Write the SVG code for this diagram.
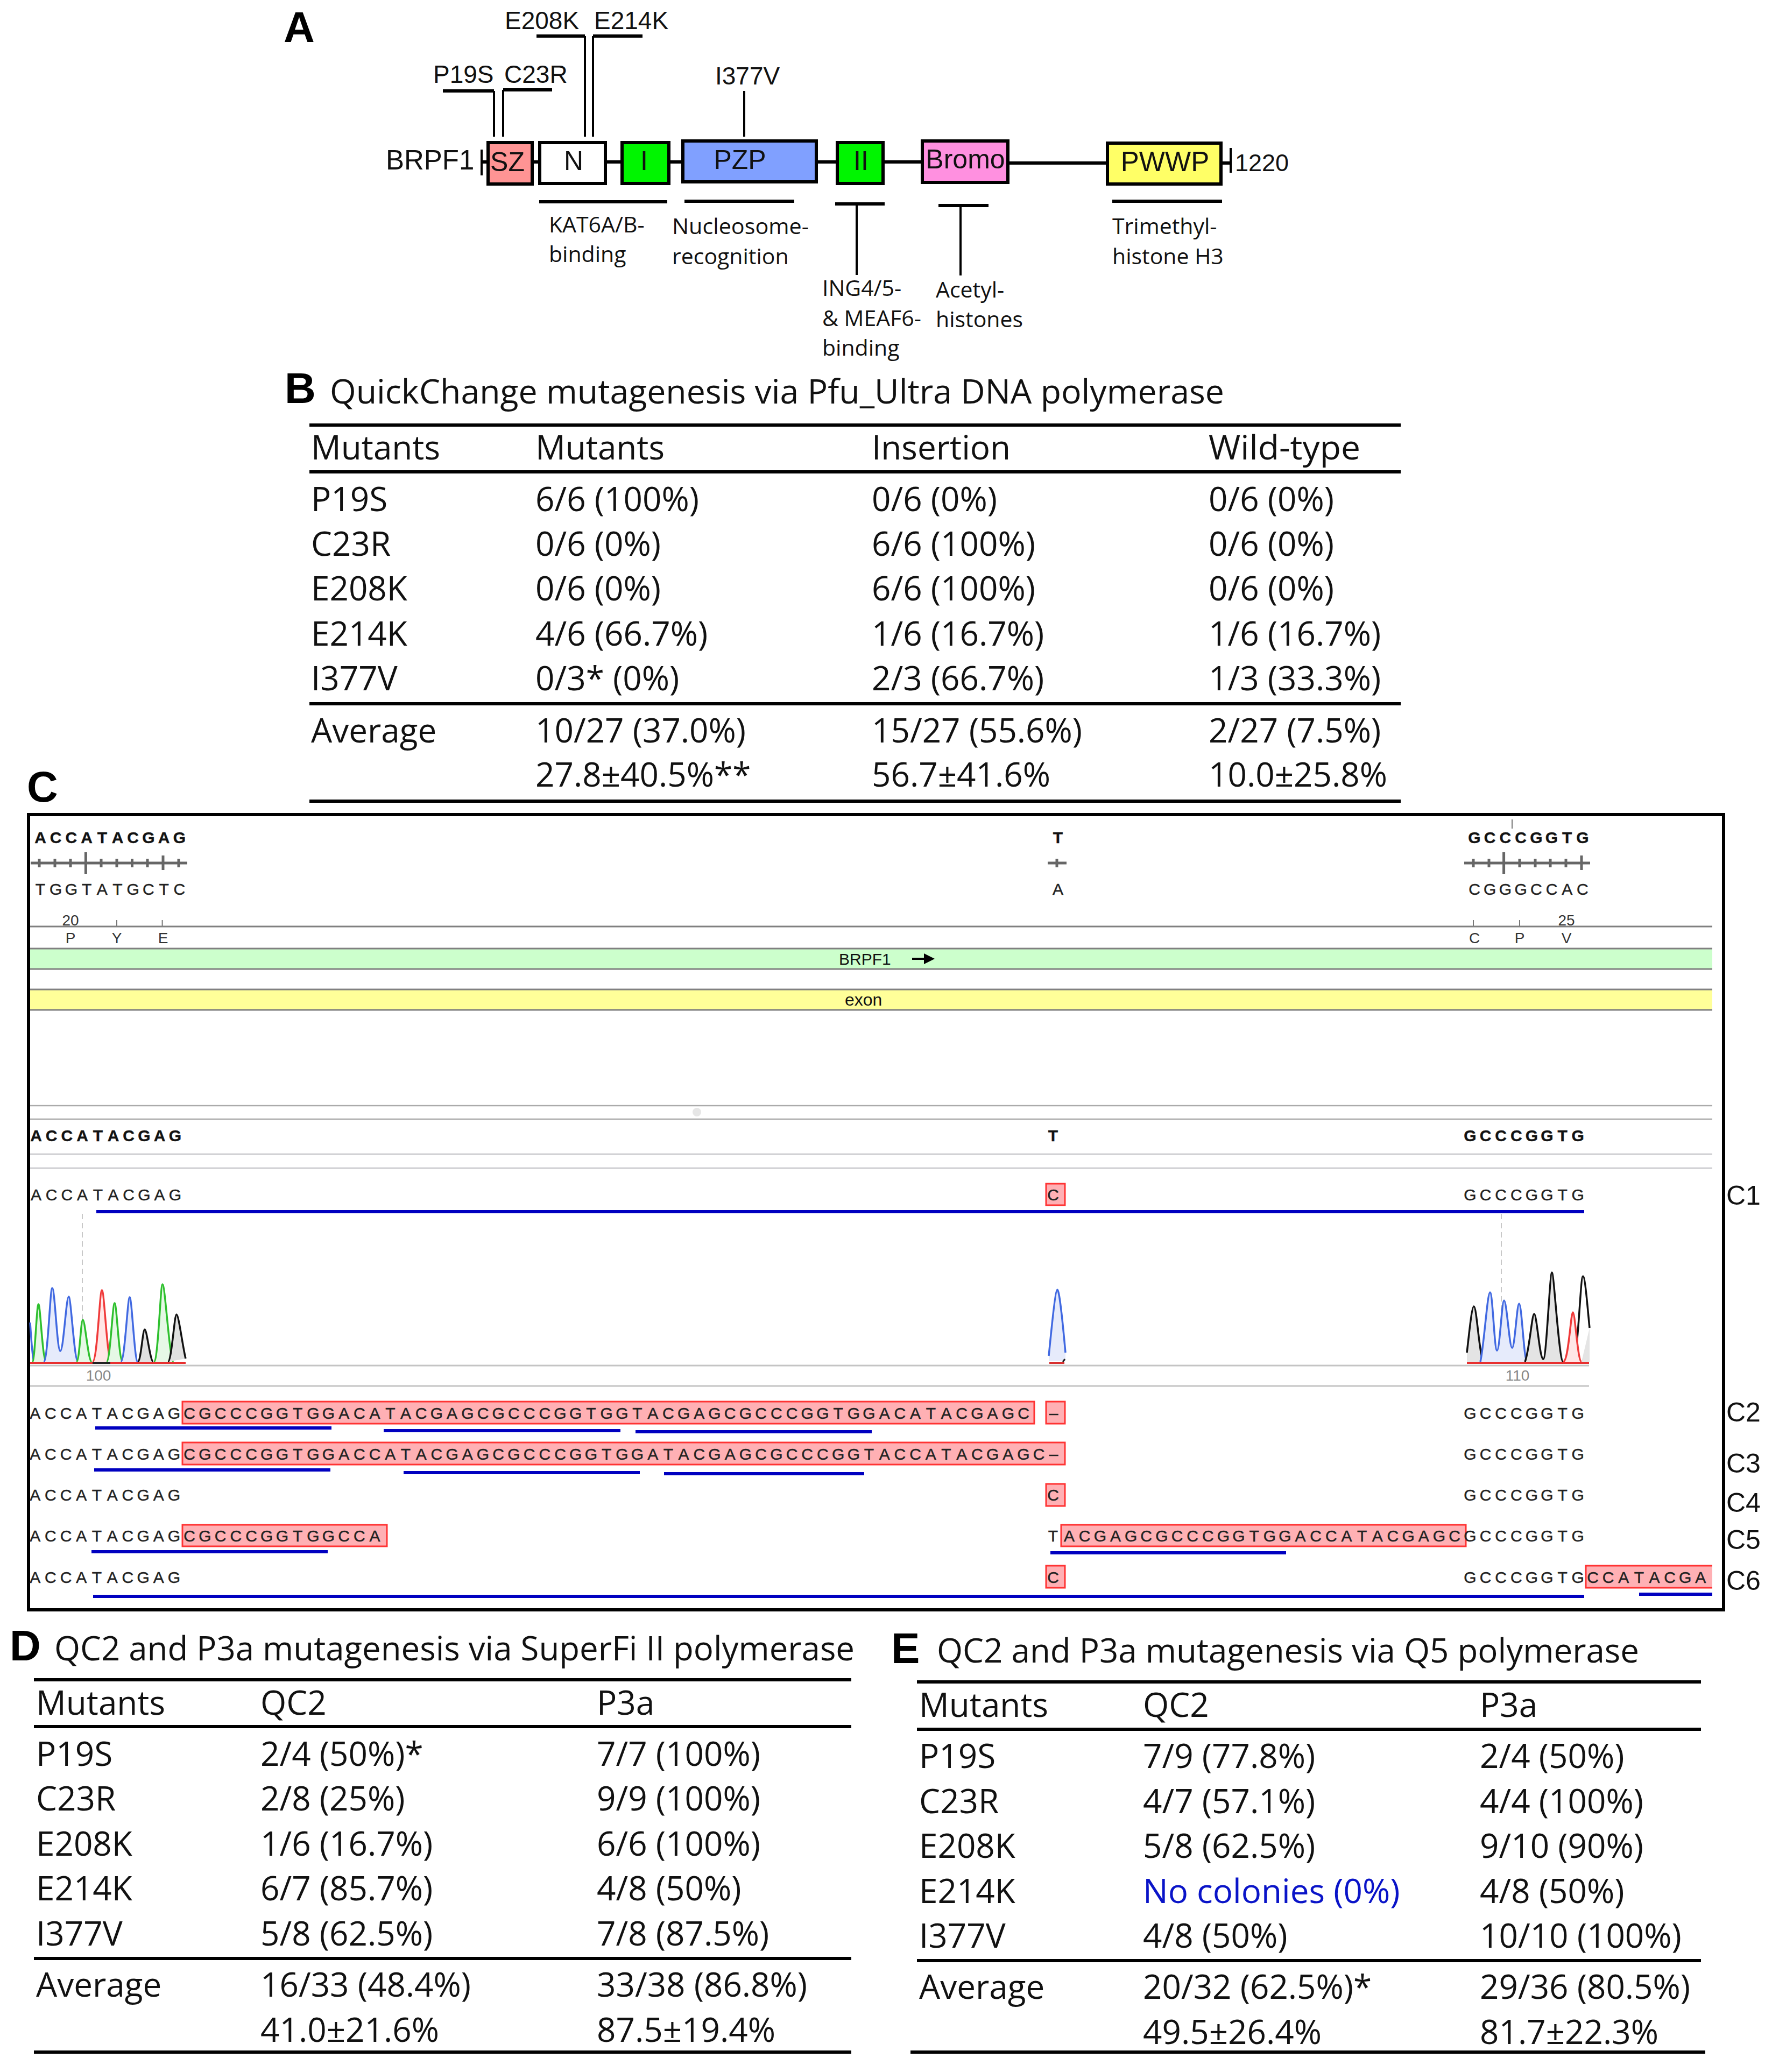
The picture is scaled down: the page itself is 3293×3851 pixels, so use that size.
<svg xmlns="http://www.w3.org/2000/svg" width="3293" height="3851" viewBox="0 0 3293 3851">
<style>
text{font-family:"Liberation Sans",Arial,sans-serif;fill:#000}
.letter{font-size:80px;font-weight:700}
.dom{stroke:#000;stroke-width:6}
.lbl{font-size:50px;text-anchor:middle;fill:#111}
.mut{font-size:46px;fill:#111}
.ann{font-family:"Open Sans",sans-serif;font-size:41px;fill:#111}
.ln{stroke:#000;stroke-width:6;fill:none}
.th{stroke:#000;stroke-width:4;fill:none}
.t text,.title{font-family:"Open Sans",sans-serif;font-size:62px;fill:#111}
.rule{stroke:#000;stroke-width:6}
.seq{font-size:30px;text-anchor:middle;fill:#222;stroke:#222;stroke-width:.5}
.bold{font-weight:700;fill:#111}
.small{font-size:28px;text-anchor:middle;fill:#333}
.ruler{stroke:#666;stroke-width:5}
.track{stroke:#808080;stroke-width:3}
.pale{stroke:#c8c8cc;stroke-width:2.5}
.box{fill:#ffb0b4;stroke:#ff3333;stroke-width:3}
.u{stroke:#0000c0;stroke-width:6}
.clab{font-size:50px;fill:#111}
.dash{stroke:#c8c8c8;stroke-width:2;stroke-dasharray:10 7}
.pk{stroke-width:3.5;stroke-linejoin:round}
.g{stroke:#2ec02e;fill:#e6f8e6}.b{stroke:#4169e1;fill:#e6ebfb}.r{stroke:#f03a3a;fill:#ffe6e6}.k{stroke:#111;fill:#e0e0e0}
</style>
<defs><marker id="ah" markerWidth="5" markerHeight="5" refX="4" refY="2.5" orient="auto"><path d="M0 0L5 2.5L0 5Z" fill="#000"/></marker></defs>
<rect width="3293" height="3851" fill="#fff"/>

<text class="letter" x="527" y="78">A</text>
<text class="letter" x="529" y="749">B</text>
<text class="letter" x="50" y="1490">C</text>
<text class="letter" x="18" y="3086">D</text>
<text class="letter" x="1656" y="3091">E</text>

<g id="connectors">
<path class="ln" d="M895 301H905M992 301H1000M1128 301H1153M1246 301H1266M1520 301H1553M1644 301H1711M1876 303H2056M2272 303H2287"/>
<path class="th" d="M895 278V326M2287 275V321"/>
<path class="ln" d="M823 169H918M935 167H1026M997 67H1087M1102 67H1194M1002 375H1240M1272 374H1476M1552 379H1644M1744 382H1837M2067 374H2271"/>
<path class="th" d="M918 169V254M935 167V254M1087 67V254M1102 67V254M1383 169V254M1592 379V511M1785 382V512"/>
</g>
<g id="dom-sz"><rect class="dom" x="907" y="265" width="82" height="77" fill="#ff9494"/><text class="lbl" x="943" y="318">SZ</text></g>
<g id="dom-n"><rect class="dom" x="1003" y="265" width="122" height="76" fill="#fff"/><text class="lbl" x="1066" y="316">N</text></g>
<g id="dom-i"><rect class="dom" x="1156" y="265" width="87" height="76" fill="#00f500"/><text class="lbl" x="1197" y="316">I</text></g>
<g id="dom-pzp"><rect class="dom" x="1269" y="262" width="248" height="76" fill="#80a0ff"/><text class="lbl" x="1375" y="314">PZP</text></g>
<g id="dom-ii"><rect class="dom" x="1556" y="265" width="85" height="76" fill="#00f500"/><text class="lbl" x="1600" y="316">II</text></g>
<g id="dom-bromo"><rect class="dom" x="1714" y="262" width="159" height="77" fill="#ff90e0"/><text class="lbl" x="1794" y="313">Bromo</text></g>
<g id="dom-pwwp"><rect class="dom" x="2058" y="266" width="211" height="76" fill="#ffff66"/><text class="lbl" x="2165" y="318" style="font-size:51px">PWWP</text></g>
<text class="mut" x="717" y="315" style="font-size:51px">BRPF1</text>
<text class="mut" x="2295" y="318" style="font-size:45px">1220</text>
<text class="mut" x="805" y="154">P19S</text>
<text class="mut" x="937" y="154">C23R</text>
<text class="mut" x="938" y="54">E208K</text>
<text class="mut" x="1104" y="54">E214K</text>
<text class="mut" x="1329" y="157">I377V</text>
<text class="ann" x="1020" y="432">KAT6A/B-</text><text class="ann" x="1020" y="487">binding</text>
<text class="ann" x="1249" y="435" textLength="254" lengthAdjust="spacingAndGlyphs">Nucleosome-</text><text class="ann" x="1249" y="491">recognition</text>
<text class="ann" x="1528" y="550">ING4/5-</text><text class="ann" x="1528" y="606">&amp; MEAF6-</text><text class="ann" x="1528" y="661">binding</text>
<text class="ann" x="1739" y="553">Acetyl-</text><text class="ann" x="1739" y="608">histones</text>
<text class="ann" x="2067" y="435">Trimethyl-</text><text class="ann" x="2067" y="491">histone H3</text>

<g id="table-b" class="t">
<text class="title" x="613" y="750" textLength="1662" lengthAdjust="spacingAndGlyphs">QuickChange mutagenesis via Pfu_Ultra DNA polymerase</text>
<path class="rule" d="M575 790H2603M575 877H2603M575 1308H2603M575 1489H2603"/>
<text x="578" y="854">Mutants</text><text x="995" y="854">Mutants</text><text x="1620" y="854">Insertion</text><text x="2246" y="854" textLength="282" lengthAdjust="spacingAndGlyphs">Wild-type</text>
<text x="578" y="950">P19S</text><text x="995" y="950">6/6 (100%)</text><text x="1620" y="950">0/6 (0%)</text><text x="2246" y="950">0/6 (0%)</text>
<text x="578" y="1033">C23R</text><text x="995" y="1033">0/6 (0%)</text><text x="1620" y="1033">6/6 (100%)</text><text x="2246" y="1033">0/6 (0%)</text>
<text x="578" y="1116">E208K</text><text x="995" y="1116">0/6 (0%)</text><text x="1620" y="1116">6/6 (100%)</text><text x="2246" y="1116">0/6 (0%)</text>
<text x="578" y="1200">E214K</text><text x="995" y="1200">4/6 (66.7%)</text><text x="1620" y="1200">1/6 (16.7%)</text><text x="2246" y="1200">1/6 (16.7%)</text>
<text x="578" y="1283">I377V</text><text x="995" y="1283">0/3* (0%)</text><text x="1620" y="1283">2/3 (66.7%)</text><text x="2246" y="1283">1/3 (33.3%)</text>
<text x="578" y="1380">Average</text><text x="995" y="1380">10/27 (37.0%)</text><text x="1620" y="1380">15/27 (55.6%)</text><text x="2246" y="1380">2/27 (7.5%)</text>
<text x="995" y="1462">27.8±40.5%**</text><text x="1620" y="1462">56.7±41.6%</text><text x="2246" y="1462">10.0±25.8%</text>
</g>

<g id="panel-c">
<rect x="53" y="1514" width="3150" height="1478" fill="#fff" stroke="#000" stroke-width="6"/>
<text class="seq bold" y="1567" x="75 103.7 132.4 161.1 189.8 218.5 247.2 275.9 304.6 333.3">ACCATACGAG</text>
<text class="seq" y="1663" x="75 103.7 132.4 161.1 189.8 218.5 247.2 275.9 304.6 333.3">TGGTATGCTC</text>
<text class="seq bold" y="1567" x="1966">T</text><text class="seq" y="1663" x="1966">A</text>
<text class="seq bold" y="1567" x="2740 2768.7 2797.4 2826.1 2854.8 2883.5 2912.2 2940.9">GCCCGGTG</text>
<text class="seq" y="1663" x="2740 2768.7 2797.4 2826.1 2854.8 2883.5 2912.2 2940.9">CGGGCCAC</text>
<path class="ruler" d="M57 1604H348M73 1596V1612M102 1596V1612M131 1596V1612M159.400 1584V1624M188 1596V1612M217 1596V1612M245.500 1596V1612M274 1596V1612M303 1590V1617M332 1596V1612"/>
<path class="ruler" d="M1947 1604H1982M1964 1596V1612"/>
<path class="ruler" d="M2721 1604H2955M2738 1596V1612M2767 1596V1612M2794.600 1584V1624M2824 1596V1612M2853 1596V1612M2881 1596V1612M2910 1596V1612M2939 1590V1617"/>
<path d="M2810 1523V1540M217 1710V1722M301.600 1710V1722M2738 1710V1722M2824 1710V1722" stroke="#777" stroke-width="2"/>
<text class="small" x="131" y="1720">20</text><text class="small" x="2911" y="1720">25</text>
<text class="small" x="131" y="1753">P</text><text class="small" x="217" y="1753">Y</text><text class="small" x="303" y="1753">E</text>
<text class="small" x="2740" y="1753">C</text><text class="small" x="2824" y="1753">P</text><text class="small" x="2911" y="1753">V</text>
<path class="track" d="M56 1722H3182"/>
<rect x="56" y="1763" width="3126" height="38" fill="#ccffcc"/>
<rect x="56" y="1839" width="3126" height="38" fill="#ffff99"/>
<path class="track" d="M56 1763H3182M56 1801H3182M56 1839H3182M56 1877H3182"/>
<text x="1559" y="1793" style="font-size:30px;fill:#111">BRPF1</text>
<path d="M1695 1782H1733" stroke="#000" stroke-width="4" marker-end="url(#ah)"/>
<text x="1570" y="1869" style="font-size:32px;fill:#111">exon</text>
<path d="M56 2055H3182M56 2080H3182" stroke="#aaa" stroke-width="2.5"/>
<ellipse cx="1295" cy="2067" rx="8" ry="8" fill="#e6e6e6"/>
<path class="pale" d="M56 2145H3182M56 2171H3182"/>

<text class="seq bold" y="2121" x="67 95.700 124.400 153.100 181.800 210.500 239.200 267.900 296.600 325.300">ACCATACGAG</text>
<text class="seq bold" y="2121" x="1957">T</text>
<text class="seq bold" y="2121" x="2732 2760.6 2789.2 2817.8 2846.4 2875 2903.6 2932.2">GCCCGGTG</text>
<text class="seq" y="2231" x="67 95.700 124.400 153.100 181.800 210.500 239.200 267.900 296.600 325.300">ACCATACGAG</text>
<rect class="box" x="1944" y="2200" width="35" height="40"/><text class="seq" y="2231" x="1957">C</text>
<text class="seq" y="2231" x="2732 2760.6 2789.2 2817.8 2846.4 2875 2903.6 2932.2">GCCCGGTG</text>
<path class="u" d="M179 2252H2944"/>

<path class="dash" d="M153 2256V2531M2790 2256V2530"/>
<g id="trace" class="pk">
<path class="b" d="M56 2458C58 2490 60 2520 63 2531"/>
<path class="g" d="M60 2531C65 2531 68 2424 71.500 2424C75 2424 79 2531 86 2531"/>
<path class="b" d="M81 2531C89 2531 93 2394 97 2394C102 2394 106 2511 112 2511C118 2511 123 2410 127.700 2410C132 2410 138 2531 145 2531"/>
<path class="g" d="M142 2531C148 2531 150 2453 154 2453C158 2453 164 2531 170.500 2531"/>
<path class="r" d="M172 2531C181 2531 185 2398 189.400 2398C194 2398 199 2531 207 2531"/>
<path class="g" d="M198 2531C205 2531 209 2422 213 2422C217 2422 221 2531 228 2531"/>
<path class="b" d="M224.500 2531C232 2531 237 2411 241 2411C245 2411 250 2531 256 2531"/>
<path class="k" d="M256 2531C262 2531 265 2471 269 2471C273 2471 279 2531 285 2531"/>
<path class="g" d="M286 2531C294 2531 298 2387 302 2387C307 2387 315 2531 322.700 2531"/>
<path class="k" d="M312 2531C319 2531 324 2443 328 2443C332 2443 339 2500 345 2525"/>
<path d="M56 2533H345" stroke="#e83030" stroke-width="4"/>
<path d="M172 2533H205" stroke="#222" stroke-width="4"/>
<path d="M1949 2520C1953 2480 1961 2397 1965 2397C1969 2397 1976 2470 1980 2514V2530H1949Z" fill="#e6ebfb" stroke="none"/>
<path d="M1949 2520C1953 2480 1961 2397 1965 2397C1969 2397 1976 2470 1980 2514" fill="none" stroke="#4169e1"/>
<path d="M1950 2533H1978" stroke="#d83030" stroke-width="4"/>
<path d="M1975 2531L1979 2526" stroke="#222" stroke-width="3"/>
<path d="M2726 2514V2531H2954V2468L2939 2531H2905L2884 2365L2868 2526L2851 2442L2834 2531H2756L2739 2428Z" fill="#e4e4e4" stroke="none"/>
<path class="k" style="fill:none" d="M2726 2514C2730 2480 2735 2428 2739 2428C2744 2428 2749 2515 2756 2531"/>
<path class="b" d="M2751 2531C2758 2500 2764 2402 2769 2402C2774 2402 2777 2510 2782 2510C2787 2510 2791 2417 2795 2417C2800 2417 2805 2505 2810 2505C2815 2505 2819 2423 2823 2423C2828 2423 2832 2531 2838 2531"/>
<path class="k" style="fill:#e4e4e4" d="M2834 2531C2842 2510 2847 2442 2851 2442C2856 2442 2861 2526 2868 2526C2874 2526 2880 2365 2884 2365C2888 2365 2897 2531 2905 2531"/>
<path class="k" style="fill:none" d="M2925 2531C2933 2510 2937 2372 2941.700 2372C2946 2372 2951 2440 2954 2468"/>
<path class="r" d="M2905 2531C2915 2531 2919 2439 2923 2439C2927 2439 2932 2531 2939 2531"/>
<path d="M2726 2533H2953" stroke="#e83030" stroke-width="4"/>
</g>
<path d="M56 2538H2953M56 2576H2953" stroke="#c4c4c4" stroke-width="3"/>
<text class="small" x="183" y="2566" style="fill:#888">100</text>
<text class="small" x="2820" y="2566" style="fill:#888">110</text>

<rect class="box" x="339" y="2605" width="1583" height="41"/><rect class="box" x="1944" y="2605" width="35" height="41"/>
<text class="seq" y="2637" x="65.200 93.900 122.600 151.300 180 208.700 237.400 266.100 294.800 323.500">ACCATACGAG</text>
<text class="seq" y="2637" x="352.200 380.900 409.600 438.300 467 495.700 524.400 553.100 581.800 610.500 639.200 667.900 696.600 725.300 754 782.700 811.400 840.100 868.800 897.500 926.200 954.900 983.600 1012.300 1041 1069.700 1098.400 1127.100 1155.800 1184.500 1213.200 1241.900 1270.600 1299.300 1328 1356.700 1385.400 1414.100 1442.800 1471.500 1500.200 1528.900 1557.600 1586.300 1615 1643.700 1672.400 1701.100 1729.800 1758.500 1787.200 1815.900 1844.600 1873.300 1902">CGCCCGGTGGACATACGAGCGCCCGGTGGTACGAGCGCCCGGTGGACATACGAGC</text>
<text class="seq" y="2637" x="1958">–</text>
<text class="seq" y="2637" x="2732 2760.6 2789.2 2817.8 2846.4 2875 2903.6 2932.2">GCCCGGTG</text>
<path class="u" d="M177 2654H616M713 2659H1153M1181 2661H1620"/>

<rect class="box" x="339" y="2681" width="1640" height="41"/>
<text class="seq" y="2713" x="65.200 93.900 122.600 151.300 180 208.700 237.400 266.100 294.800 323.500">ACCATACGAG</text>
<text class="seq" y="2713" x="352.200 380.900 409.600 438.300 467 495.700 524.400 553.100 581.800 610.500 639.200 667.900 696.600 725.300 754 782.700 811.400 840.100 868.800 897.500 926.200 954.900 983.600 1012.300 1041 1069.700 1098.400 1127.100 1155.800 1184.500 1213.200 1241.900 1270.600 1299.300 1328 1356.700 1385.400 1414.100 1442.800 1471.500 1500.200 1528.900 1557.600 1586.300 1615 1643.700 1672.400 1701.100 1729.800 1758.500 1787.200 1815.900 1844.600 1873.300 1902 1930.700 1958">CGCCCGGTGGACCATACGAGCGCCCGGTGGATACGAGCGCCCGGTACCATACGAGC–</text>
<text class="seq" y="2713" x="2732 2760.6 2789.2 2817.8 2846.4 2875 2903.6 2932.2">GCCCGGTG</text>
<path class="u" d="M175 2732H614M750 2737H1189M1234 2739H1606"/>

<text class="seq" y="2789" x="65.200 93.900 122.600 151.300 180 208.700 237.400 266.100 294.800 323.500">ACCATACGAG</text>
<rect class="box" x="1944" y="2758" width="35" height="41"/><text class="seq" y="2789" x="1957">C</text>
<text class="seq" y="2789" x="2732 2760.6 2789.2 2817.8 2846.4 2875 2903.6 2932.2">GCCCGGTG</text>

<rect class="box" x="339" y="2834" width="380" height="40"/><rect class="box" x="1972" y="2834" width="752" height="40"/>
<text class="seq" y="2865" x="65.200 93.900 122.600 151.300 180 208.700 237.400 266.100 294.800 323.500">ACCATACGAG</text>
<text class="seq" y="2865" x="352.200 380.900 409.600 438.300 467 495.700 524.400 553.100 581.800 610.500 639.200 667.900 696.600">CGCCCGGTGGCCA</text>
<text class="seq" y="2865" x="1957">T</text>
<text class="seq" y="2865" x="1987 2015.6 2044.3 2072.9 2101.6 2130.2 2158.8 2187.5 2216.1 2244.8 2273.4 2302 2330.7 2359.3 2388 2416.6 2445.2 2473.9 2502.5 2531.2 2559.8 2588.4 2617.1 2645.7 2674.4 2703">ACGAGCGCCCGGTGGACCATACGAGC</text>
<text class="seq" y="2865" x="2732 2760.6 2789.2 2817.8 2846.4 2875 2903.6 2932.2">GCCCGGTG</text>
<path class="u" d="M170 2884H609M1952 2886H2390"/>

<text class="seq" y="2942" x="65.200 93.900 122.600 151.300 180 208.700 237.400 266.100 294.800 323.500">ACCATACGAG</text>
<rect class="box" x="1944" y="2910" width="35" height="41"/><text class="seq" y="2942" x="1957">C</text>
<text class="seq" y="2942" x="2732 2760.6 2789.2 2817.8 2846.4 2875 2903.6 2932.2">GCCCGGTG</text>
<path d="M3182 2910H2947V2951H3182" fill="#ffb0b4" stroke="#ff3333" stroke-width="3"/>
<text class="seq" y="2942" x="2960 2988.6 3017.2 3045.8 3074.4 3103 3131.6 3160.2">CCATACGA</text>
<path class="u" d="M173 2967H2944M3046 2963H3182"/>

<text class="clab" x="3208" y="2239">C1</text>
<text class="clab" x="3208" y="2642">C2</text>
<text class="clab" x="3208" y="2737">C3</text>
<text class="clab" x="3208" y="2810">C4</text>
<text class="clab" x="3208" y="2879">C5</text>
<text class="clab" x="3208" y="2955">C6</text>
</g>

<g id="table-d" class="t">
<text class="title" x="101" y="3086" textLength="1487" lengthAdjust="spacingAndGlyphs">QC2 and P3a mutagenesis via SuperFi II polymerase</text>
<path class="rule" d="M63 3122H1582M63 3209H1582M63 3640H1582M63 3814H1582"/>
<text x="67" y="3187">Mutants</text><text x="484" y="3187">QC2</text><text x="1109" y="3187">P3a</text>
<text x="67" y="3282">P19S</text><text x="484" y="3282">2/4 (50%)*</text><text x="1109" y="3282">7/7 (100%)</text>
<text x="67" y="3365">C23R</text><text x="484" y="3365">2/8 (25%)</text><text x="1109" y="3365">9/9 (100%)</text>
<text x="67" y="3449">E208K</text><text x="484" y="3449">1/6 (16.7%)</text><text x="1109" y="3449">6/6 (100%)</text>
<text x="67" y="3532">E214K</text><text x="484" y="3532">6/7 (85.7%)</text><text x="1109" y="3532">4/8 (50%)</text>
<text x="67" y="3616">I377V</text><text x="484" y="3616">5/8 (62.5%)</text><text x="1109" y="3616">7/8 (87.5%)</text>
<text x="67" y="3711">Average</text><text x="484" y="3711">16/33 (48.4%)</text><text x="1109" y="3711">33/38 (86.8%)</text>
<text x="484" y="3795">41.0±21.6%</text><text x="1109" y="3795">87.5±19.4%</text>
</g>

<g id="table-e" class="t">
<text class="title" x="1741" y="3090" textLength="1305" lengthAdjust="spacingAndGlyphs">QC2 and P3a mutagenesis via Q5 polymerase</text>
<path class="rule" d="M1704 3126H3161M1704 3214H3161M1704 3644H3161M1692 3814H3169"/>
<text x="1708" y="3191">Mutants</text><text x="2124" y="3191">QC2</text><text x="2750" y="3191">P3a</text>
<text x="1708" y="3286">P19S</text><text x="2124" y="3286">7/9 (77.8%)</text><text x="2750" y="3286">2/4 (50%)</text>
<text x="1708" y="3370">C23R</text><text x="2124" y="3370">4/7 (57.1%)</text><text x="2750" y="3370">4/4 (100%)</text>
<text x="1708" y="3453">E208K</text><text x="2124" y="3453">5/8 (62.5%)</text><text x="2750" y="3453">9/10 (90%)</text>
<text x="1708" y="3537">E214K</text><text x="2124" y="3537" style="fill:#0a14c8">No colonies (0%)</text><text x="2750" y="3537">4/8 (50%)</text>
<text x="1708" y="3620">I377V</text><text x="2124" y="3620">4/8 (50%)</text><text x="2750" y="3620">10/10 (100%)</text>
<text x="1708" y="3715">Average</text><text x="2124" y="3715">20/32 (62.5%)*</text><text x="2750" y="3715">29/36 (80.5%)</text>
<text x="2124" y="3799">49.5±26.4%</text><text x="2750" y="3799">81.7±22.3%</text>
</g>
</svg>
